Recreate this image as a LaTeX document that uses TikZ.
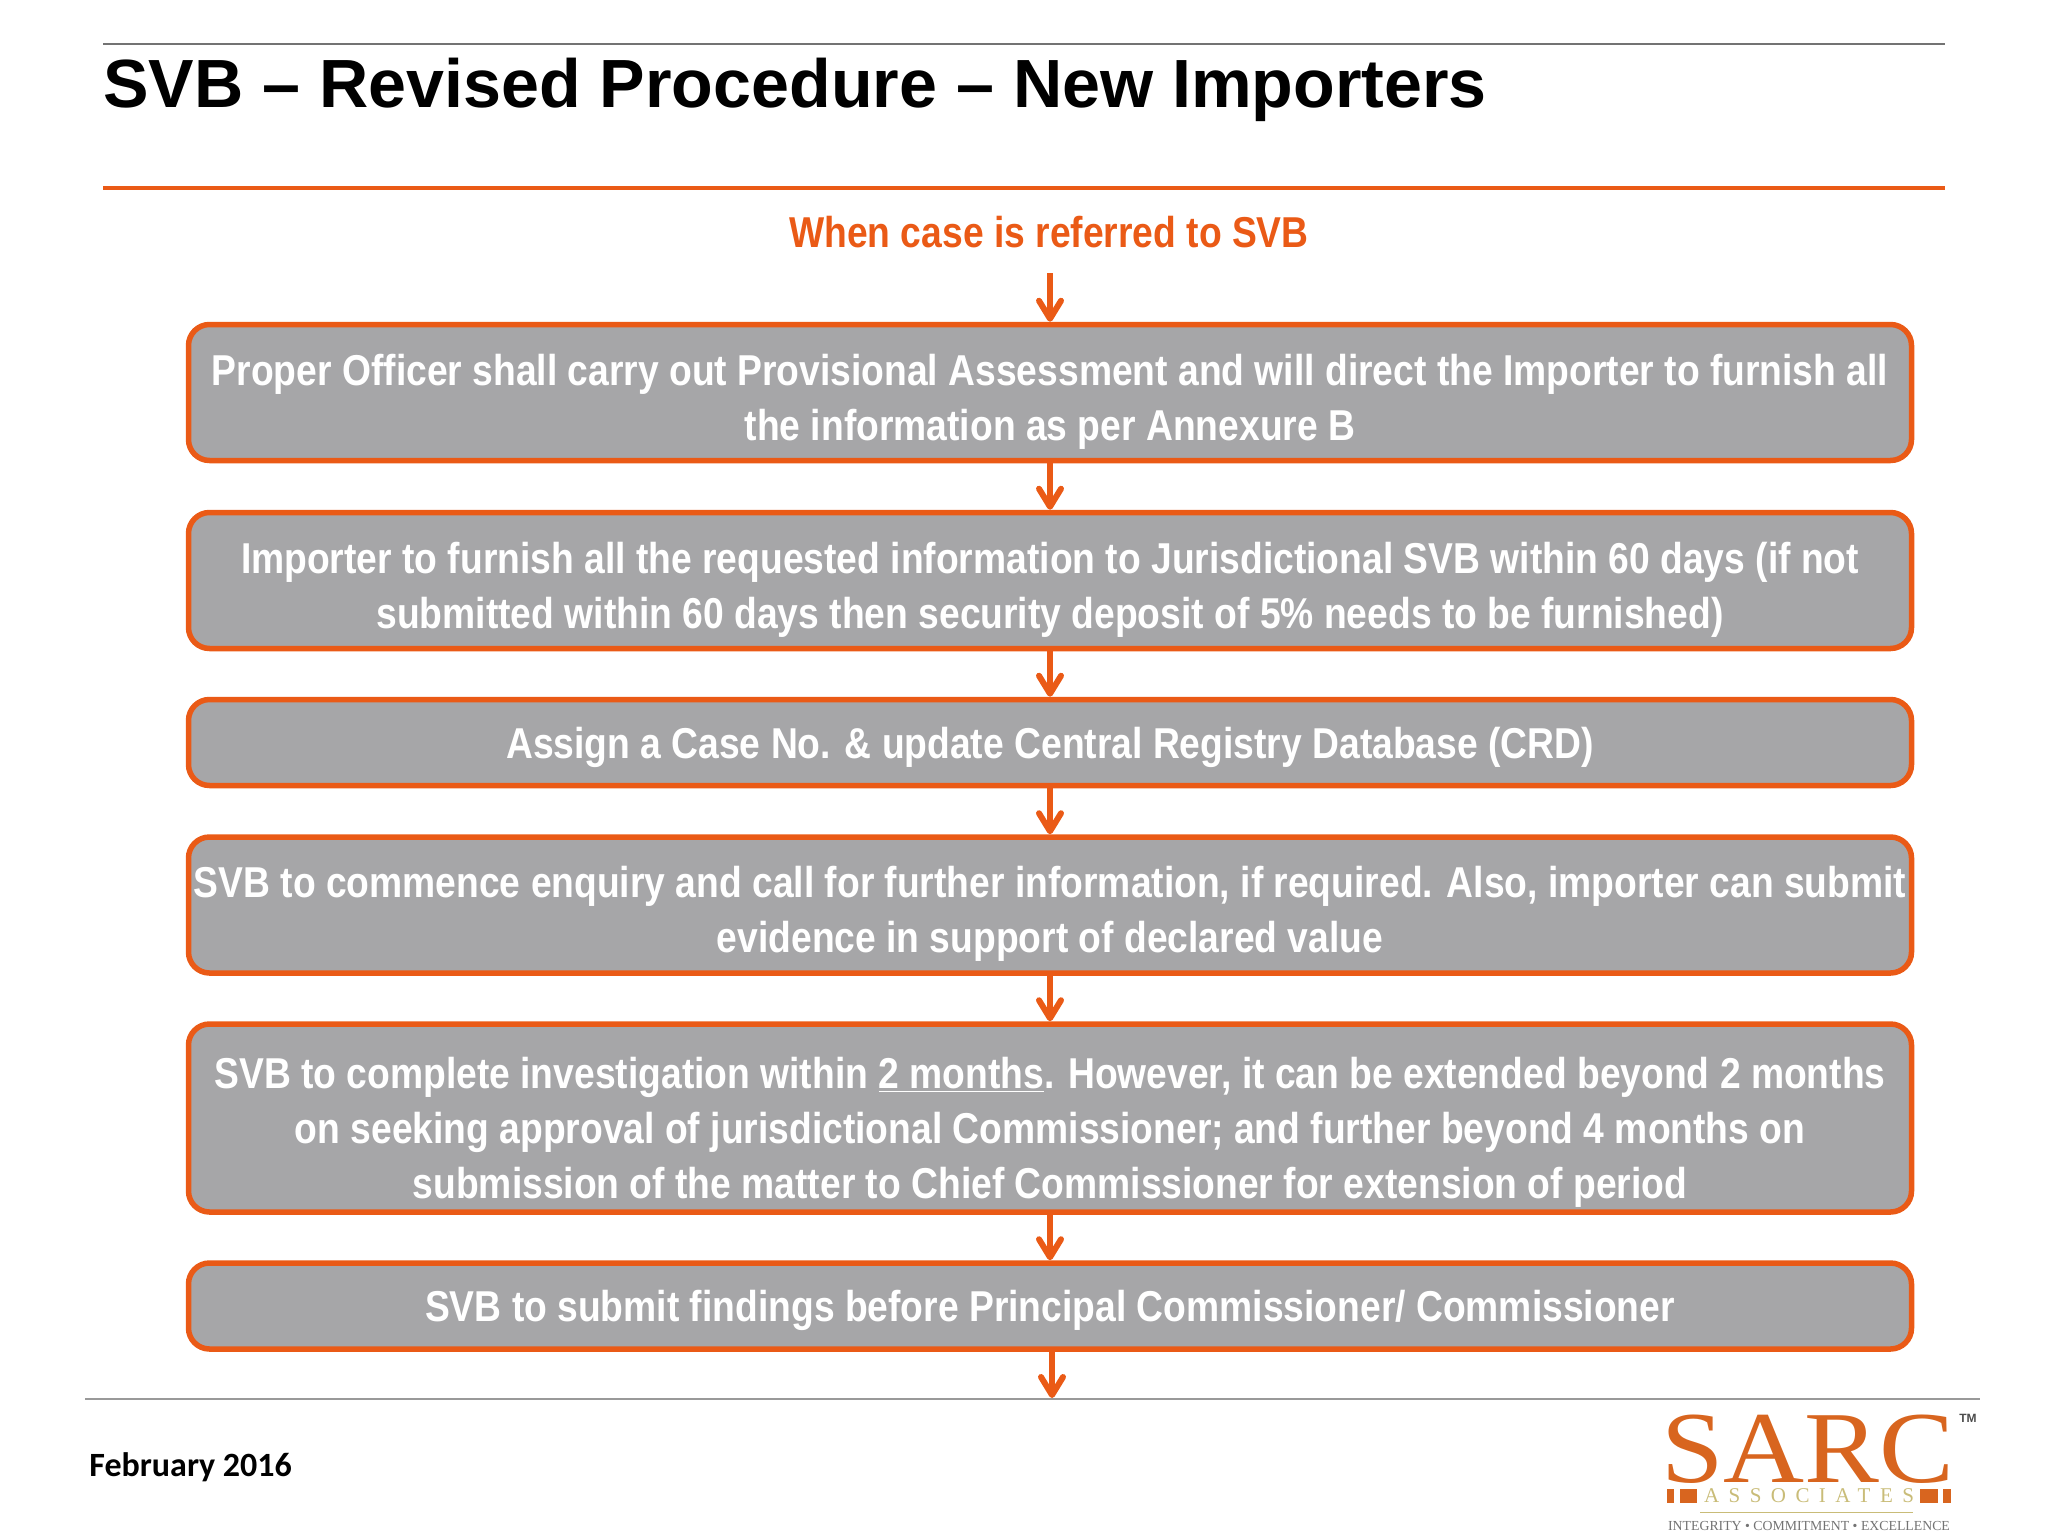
\documentclass[tikz,border=0pt]{standalone}
\usepackage{fontspec}
\setmainfont{Liberation Sans}
\newfontfamily\narrowfont[FakeStretch=0.862]{Liberation Sans}
\newfontfamily\footfont{Carlito}
\newfontfamily\logofont{Liberation Serif}
\newfontfamily\logowide[FakeStretch=1.1]{Liberation Serif}
\usetikzlibrary{arrows.meta}
\definecolor{svborange}{HTML}{EA5A16}
\definecolor{svbgrey}{HTML}{A6A6A8}
\definecolor{logoorange}{HTML}{D8651F}
\definecolor{logokhaki}{HTML}{C9BC78}
\newcommand{\boxpad}[1]{\rule{0pt}{#1pt}}
\tikzset{
  svbbox/.style={draw=svborange,line width=2.75pt,fill=svbgrey,rounded corners=10.5pt,
    minimum width=861.5pt,inner sep=0pt,align=center,text=white,
    font=\narrowfont\bfseries\fontsize{21.6}{27.5}\selectfont},
  svbarrow/.style={draw=svborange,line width=2.8pt,
    -{Straight Barb[length=9pt,width=11pt,round,line width=3pt]}}
}
\begin{document}
\begin{tikzpicture}[x=0.5pt,y=-0.5pt]

\useasboundingbox (0,0) rectangle (2048,1536) ;

% title and rules

\coordinate (rule_top_l) at (103,44) ;
\coordinate (rule_top_r) at (1945,44) ;
\coordinate (rule_org_l) at (103,188) ;
\coordinate (rule_org_r) at (1945,188) ;
\coordinate (rule_bot_l) at (85,1399) ;
\coordinate (rule_bot_r) at (1980,1399) ;

\draw[black!55,line width=0.8pt] (rule_top_l) -- (rule_top_r) ;
\draw[svborange,line width=2pt] (rule_org_l) -- (rule_org_r) ;
\draw[black!40,line width=0.7pt] (rule_bot_l) -- (rule_bot_r) ;

\node[anchor=west,inner sep=0pt,font=\bfseries\fontsize{34.1}{40}\selectfont] (title) at (103,90) {SVB – Revised Procedure – New Importers} ;

\node[text=svborange,inner sep=0pt,font=\narrowfont\bfseries\fontsize{21.6}{27}\selectfont] (start) at (1049,232) {When case is referred to SVB} ;

% boxes

\node[svbbox,minimum height=68pt] (assess) at (1050,392.5) {\boxpad{24.5}Proper Officer shall carry out Provisional Assessment and will direct the Importer to furnish all\\the information as per Annexure B} ;
\node[svbbox,minimum height=68pt] (furnish) at (1050,580.5) {\boxpad{24.5}Importer to furnish all the requested information to Jurisdictional SVB within 60 days (if not\\submitted within 60 days then security deposit of 5\% needs to be furnished)} ;
\node[svbbox,minimum height=43pt] (caseno) at (1050,742.5) {\boxpad{21}Assign a Case No. \& update Central Registry Database (CRD)} ;
\node[svbbox,minimum height=68pt] (enquiry) at (1050,905) {\boxpad{24.5}SVB to commence enquiry and call for further information, if required. Also, importer can submit\\evidence in support of declared value} ;
\node[svbbox,minimum height=94pt] (invest) at (1050,1118) {\boxpad{29.5}SVB to complete investigation within \underline{2 months}. However, it can be extended beyond 2 months\\on seeking approval of jurisdictional Commissioner; and further beyond 4 months on\\submission of the matter to Chief Commissioner for extension of period} ;
\node[svbbox,minimum height=43pt] (findings) at (1050,1306) {\boxpad{20}SVB to submit findings before Principal Commissioner/ Commissioner} ;

% arrows

\coordinate (arrow_top) at (1050,273) ;
\coordinate (arrow_end) at (1052,1398) ;

\draw[svbarrow] (arrow_top) -- (assess.north) ;
\draw[svbarrow] (assess) -- (furnish) ;
\draw[svbarrow] (furnish) -- (caseno) ;
\draw[svbarrow] (caseno) -- (enquiry) ;
\draw[svbarrow] (enquiry) -- (invest) ;
\draw[svbarrow] (invest) -- (findings) ;
\draw[svbarrow] (findings.south -| arrow_end) -- (arrow_end) ;

% footer

\node[anchor=west,inner sep=0pt,font=\footfont\bfseries\fontsize{17}{20}\selectfont] (date) at (89,1467) {February 2016} ;

% logo

\node[text=logoorange,inner sep=0pt,font=\logowide\fontsize{51}{51}\selectfont] (logo_sarc) at (1808,1449) {SARC} ;
\node[inner sep=0pt,font=\bfseries\fontsize{6}{7}\selectfont,text=black!70] (logo_tm) at (1968,1418) {TM} ;
\fill[logoorange] (1667,1489) rectangle (1674,1503) ;
\fill[logoorange] (1680,1489) rectangle (1697,1503) ;
\fill[logoorange] (1920,1489) rectangle (1938,1503) ;
\fill[logoorange] (1943,1489) rectangle (1951,1503) ;
\node[text=logokhaki,inner sep=0pt,font=\logofont\addfontfeature{LetterSpace=45}\fontsize{10.5}{12}\selectfont] (logo_assoc) at (1809,1496) {ASSOCIATES} ;
\draw[logokhaki,line width=0.5pt] (1700,1512) -- (1913,1512) ;
\node[text=black!55,inner sep=0pt,font=\logofont\fontsize{6.9}{8}\selectfont] (logo_motto) at (1809,1526) {INTEGRITY • COMMITMENT • EXCELLENCE} ;

\end{tikzpicture}
\end{document}
